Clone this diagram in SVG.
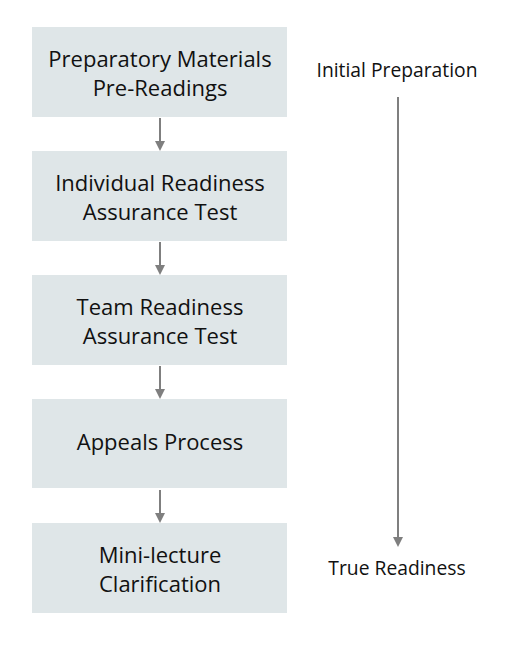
<svg xmlns="http://www.w3.org/2000/svg" width="505" height="650" viewBox="0 0 505 650">
<defs>
<style>
.box{fill:#dfe6e8}
.t{font-family:"Open Sans","Noto Sans",sans-serif;font-size:22px;fill:#111;text-anchor:middle}
.s{font-family:"Open Sans","Noto Sans",sans-serif;font-size:19.3px;fill:#111;text-anchor:middle}
.c{stroke:#7f7f7f;stroke-width:2;fill:none}
</style>
<marker id="ah" markerWidth="10" markerHeight="10" refX="8" refY="5" orient="auto" markerUnits="userSpaceOnUse">
<path d="M0,0 L10,5 L0,10 Z" fill="#7f7f7f"/>
</marker>
</defs>
<rect width="505" height="650" fill="#fff"/>
<g id="n1"><rect class="box" x="32" y="27" width="255" height="90"/>
<text class="t" x="160" y="67">Preparatory Materials</text><text class="t" x="160" y="96">Pre-Readings</text></g>
<g id="n2"><rect class="box" x="32" y="151" width="255" height="90"/>
<text class="t" x="160" y="191">Individual Readiness</text><text class="t" x="160" y="220">Assurance Test</text></g>
<g id="n3"><rect class="box" x="32" y="275" width="255" height="90"/>
<text class="t" x="160" y="315">Team Readiness</text><text class="t" x="160" y="344">Assurance Test</text></g>
<g id="n4"><rect class="box" x="32" y="399" width="255" height="89"/>
<text class="t" x="160" y="450">Appeals Process</text></g>
<g id="n5"><rect class="box" x="32" y="523" width="255" height="90"/>
<text class="t" x="160" y="563">Mini-lecture</text><text class="t" x="160" y="592">Clarification</text></g>
<g id="l1"><text class="s" x="397" y="77">Initial Preparation</text></g>
<g id="l2"><text class="s" x="397" y="575">True Readiness</text></g>
<g id="connectors">
<line class="c" x1="160" y1="118" x2="160" y2="149" marker-end="url(#ah)"/>
<line class="c" x1="160" y1="242" x2="160" y2="273" marker-end="url(#ah)"/>
<line class="c" x1="160" y1="366" x2="160" y2="397" marker-end="url(#ah)"/>
<line class="c" x1="160" y1="490" x2="160" y2="521" marker-end="url(#ah)"/>
<line class="c" x1="398" y1="97" x2="398" y2="545" marker-end="url(#ah)"/>
</g>
</svg>
